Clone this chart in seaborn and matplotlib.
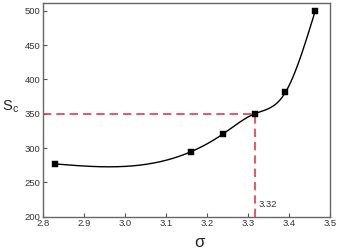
import numpy as np
import pandas as pd
import matplotlib
matplotlib.use('Agg')
import matplotlib.pyplot as plt
import seaborn as sns

sigma = [2.828, 3.162, 3.240, 3.316, 3.391, 3.464]
sc = [277, 295, 321, 350, 381, 500]
sigma_mark = 3.32
sc_mark = 350


def natural_spline(x, y, n=300):
    # plain natural cubic spline, only used to draw the smooth line
    x = np.asarray(x, float)
    y = np.asarray(y, float)
    k = len(x)
    h = np.diff(x)
    A = np.zeros((k, k))
    b = np.zeros(k)
    A[0, 0] = A[-1, -1] = 1
    for i in range(1, k - 1):
        A[i, i - 1] = h[i - 1]
        A[i, i] = 2 * (h[i - 1] + h[i])
        A[i, i + 1] = h[i]
        b[i] = 3 * ((y[i + 1] - y[i]) / h[i] - (y[i] - y[i - 1]) / h[i - 1])
    c = np.linalg.solve(A, b)
    xs = np.linspace(x[0], x[-1], n)
    idx = np.clip(np.searchsorted(x, xs) - 1, 0, k - 2)
    dx = xs - x[idx]
    bb = (y[idx + 1] - y[idx]) / h[idx] - h[idx] * (2 * c[idx] + c[idx + 1]) / 3
    dd = (c[idx + 1] - c[idx]) / (3 * h[idx])
    ys = y[idx] + bb * dx + c[idx] * dx ** 2 + dd * dx ** 3
    return xs, ys


sns.set_style('ticks')
plt.rcParams['font.family'] = ['Liberation Sans', 'DejaVu Sans']

fig, ax = plt.subplots(figsize=(3.42, 2.52), dpi=100)
fig.subplots_adjust(left=0.126, right=0.965, top=0.987, bottom=0.14)

xs, ys = natural_spline(sigma, sc)
curve = pd.DataFrame({'sigma': xs, 'sc': ys})
pts = pd.DataFrame({'sigma': sigma, 'sc': sc})

sns.lineplot(data=curve, x='sigma', y='sc', ax=ax, color='black', lw=1.0)
sns.scatterplot(data=pts, x='sigma', y='sc', ax=ax, color='black', marker='s',
                s=14, edgecolor='black', zorder=5)

red = '#e63a46'
ax.plot([2.8, sigma_mark - 0.004], [sc_mark, sc_mark], color=red, ls=(0, (5, 3)), lw=1.2)
ax.plot([sigma_mark - 0.004, sigma_mark - 0.004], [200, sc_mark], color=red, ls=(0, (5, 3)), lw=1.2)
ax.text(sigma_mark + 0.006, 211, '3.32', fontsize=6.8, color='#333333', va='bottom', ha='left')

ax.set_xlim(2.8, 3.5)
ax.set_ylim(200, 511)
ax.set_xticks([2.8, 2.9, 3.0, 3.1, 3.2, 3.3, 3.4, 3.5])
ax.set_yticks([200, 250, 300, 350, 400, 450, 500])
ax.tick_params(direction='in', length=3, width=0.8, labelsize=6.8, colors='#555555',
               labelcolor='#333333', pad=2)
for s in ax.spines.values():
    s.set_color('#666666')
    s.set_linewidth(1.0)

ax.set_xlabel('σ', fontsize=12, color='#222222')
ax.xaxis.set_label_coords(0.545, -0.085)
ax.set_ylabel('')
fig.text(0.008, 0.563, 'S', fontsize=10.5, color='#222222', va='baseline')
fig.text(0.036, 0.557, 'c', fontsize=7.5, color='#222222', va='baseline')

fig.savefig('out.png', dpi=100)
